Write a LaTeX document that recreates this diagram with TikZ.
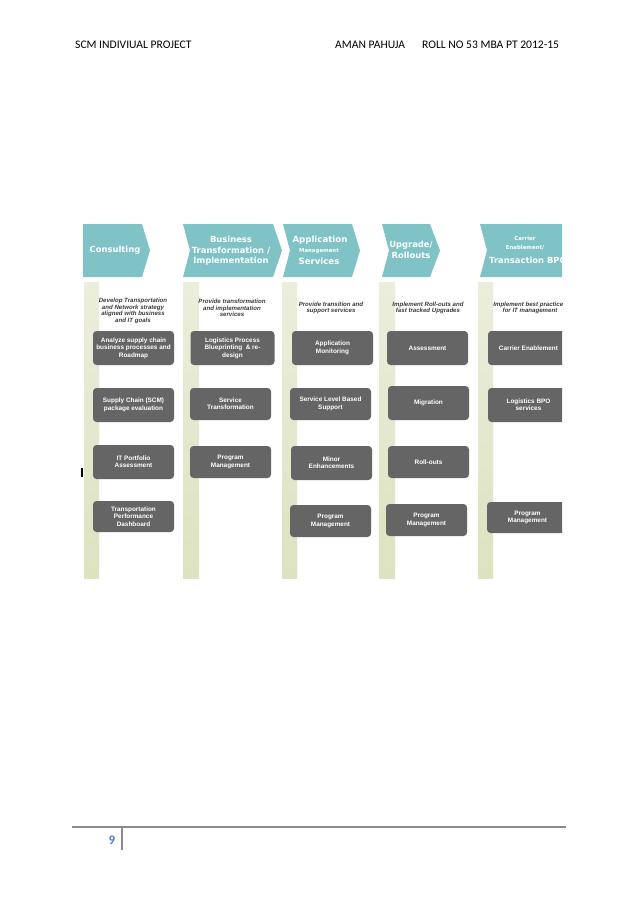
\documentclass[tikz,border=0pt]{standalone}
\usepackage{fontspec}
\setmainfont{Carlito}
\newfontfamily\chevfont{DejaVu Sans}
\newfontfamily\boxfont{Liberation Sans}
\definecolor{teal1}{HTML}{80C3C7}
\definecolor{boxgray}{HTML}{656565}
\definecolor{barcol}{HTML}{DDE2C0}
\definecolor{bartop}{HTML}{ECEEDC}
\definecolor{desccol}{HTML}{3A3A3A}
\definecolor{pageblue}{HTML}{4F81BD}
\definecolor{rulegray}{HTML}{8A8A8A}
\begin{document}
\begin{tikzpicture}[x=1pt,y=-1pt,
  hdr/.style={anchor=base west,inner sep=0pt,font=\fontsize{11.6}{13}\selectfont,text=black},
  chev/.style={fill=teal1,draw=none},
  chevtext/.style={text=white,align=center,inner sep=0pt,font=\chevfont\bfseries\fontsize{8.4}{10.5}\selectfont},
  desc/.style={text=desccol,align=center,inner sep=0pt,font=\boxfont\bfseries\itshape\fontsize{6.1}{6.8}\selectfont},
  box/.style={fill=boxgray,rounded corners=3.5pt,text=white,align=center,inner sep=1pt,
     minimum width=81pt,minimum height=34pt,font=\boxfont\bfseries\fontsize{6.4}{7.4}\selectfont},
  bar/.style={top color=bartop,bottom color=barcol,draw=none}
]
\useasboundingbox (0,0) rectangle (638,903);
\fill[white] (0,0) rectangle (638,903);

% header
\node[hdr] (h1) at (75,48) {SCM INDIVIUAL PROJECT};
\node[hdr] (h2) at (335,48) {AMAN PAHUJA};
\node[hdr] (h3) at (422,48) {ROLL NO 53 MBA PT 2012-15};

\begin{scope}
\clip (80,215) rectangle (562,585);
% vertical bars
\fill[bar] (84,282) rectangle (99,578);
\fill[bar] (183,282) rectangle (199,578);
\fill[bar] (282,282) rectangle (297,578);
\fill[bar] (379,282) rectangle (395,578);
\fill[bar] (478,282) rectangle (493,578);

% chevrons
\fill[chev] (83,224) -- (142,224) -- (150,250.5) -- (142,277) -- (83,277) -- cycle;
\fill[chev] (183,224) -- (273,224) -- (282,250.5) -- (273,277) -- (183,277) -- (190,250.5) -- cycle;
\fill[chev] (283,224) -- (352,224) -- (360,250.5) -- (352,277) -- (283,277) -- (290,250.5) -- cycle;
\fill[chev] (382,224) -- (430,224) -- (440,250.5) -- (430,277) -- (382,277) -- (389,250.5) -- cycle;
\fill[chev] (480,224) -- (575,224) -- (583,250.5) -- (575,277) -- (480,277) -- (487,250.5) -- cycle;

\node[chevtext] (c1) at (115,250) {Consulting};
\node[chevtext] (c2) at (231,251) {Business\\Transformation /\\Implementation};
\node[chevtext,font=\chevfont\bfseries\fontsize{8.6}{10}\selectfont] (c3a) at (320,240) {Application};
\node[chevtext,font=\chevfont\bfseries\fontsize{5.4}{6}\selectfont] (c3b) at (319,251) {Management};
\node[chevtext,font=\chevfont\bfseries\fontsize{8.6}{10}\selectfont] (c3c) at (319,261) {Services};
\node[chevtext,font=\chevfont\bfseries\fontsize{8.4}{10.5}\selectfont] (c4) at (411,250) {Upgrade/\\Rollouts};
\node[chevtext,font=\chevfont\bfseries\fontsize{5.4}{6}\selectfont] (c5a) at (525,238) {Carrier};
\node[chevtext,font=\chevfont\bfseries\fontsize{5.4}{6}\selectfont] (c5b) at (525,248) {Enablement/};
\node[chevtext,font=\chevfont\bfseries\fontsize{8.4}{10}\selectfont] (c5c) at (528,260) {Transaction BPO};

% descriptions
\node[desc] (d1) at (133,311) {Develop Transportation\\and Network strategy\\aligned with business\\and IT goals};
\node[desc] (d2) at (232,308) {Provide transformation\\and implementation\\services};
\node[desc] (d3) at (331,308) {Provide transition and\\support services};
\node[desc] (d4) at (428,308) {Implement Roll-outs and\\fast tracked Upgrades};
\node[desc] (d5) at (530,308) {Implement best practices\\for IT management};

% boxes
\node[box] (b11) at (133.5,348) {Analyze supply chain\\business processes and\\Roadmap};
\node[box] (b12) at (133.5,405) {Supply Chain (SCM)\\package evaluation};
\node[box] (b13) at (133.5,462) {IT Portfolio\\Assessment};
\node[box,minimum height=31pt] (b14) at (133.5,516.5) {Transportation\\Performance\\Dashboard};

\node[box,minimum width=84pt] (b21) at (232.5,348) {Logistics Process\\Blueprinting \ \& re-\\design};
\node[box,minimum height=32pt] (b22) at (230.5,404) {Service\\Transformation};
\node[box,minimum height=32pt] (b23) at (230.5,462) {Program\\Management};

\node[box] (b31) at (332.5,348) {Application\\Monitoring};
\node[box,minimum height=32pt] (b32) at (330.5,404) {Service Level Based\\Support};
\node[box] (b33) at (331.5,463) {Minor\\Enhancements};
\node[box,minimum height=32pt] (b34) at (330.5,521) {Program\\Management};

\node[box] (b41) at (427.5,348) {Assessment};
\node[box] (b42) at (428.5,403) {Migration};
\node[box,minimum height=32pt] (b43) at (428.5,462) {Roll-outs};
\node[box,minimum height=32pt] (b44) at (426.5,520) {Program\\Management};

\node[box] (b51) at (528.5,348) {Carrier Enablement};
\node[box] (b52) at (528.5,405) {Logistics BPO\\services};
\node[box,minimum height=31pt] (b53) at (527.5,517.5) {Program\\Management};
\end{scope}

% stray mark
\fill[black] (81,468) rectangle (83,477);

% footer
\draw[rulegray,line width=2pt] (72,827) coordinate (fl) -- (566,827) coordinate (fr);
\draw[rulegray,line width=1.6pt] (122,826) coordinate (ft) -- (122,850) coordinate (fb);
\node[text=pageblue,inner sep=0pt,font=\bfseries\fontsize{13}{15}\selectfont] (pg) at (112,840) {9};
\end{tikzpicture}
\end{document}
